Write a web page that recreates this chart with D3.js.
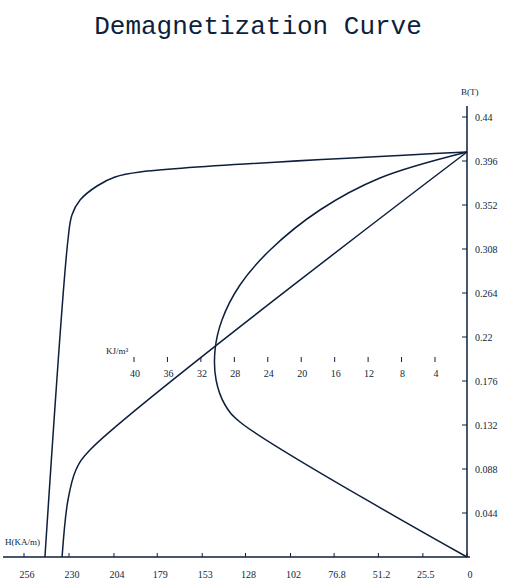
<!DOCTYPE html><html><head><meta charset="utf-8"><script src="https://cdn.jsdelivr.net/npm/d3@7"></script>
<style>body{margin:0;background:#fff}</style></head><body><svg id="c" width="511" height="587"></svg>
<script>
const hTicks=[256,230,204,179,153,128,102,76.8,51.2,25.5,0];
const bTicks=[0.44,0.396,0.352,0.308,0.264,0.22,0.176,0.132,0.088,0.044];
const eTicks=[40,36,32,28,24,20,16,12,8,4];
const outerH=[243.9,230.6,228.3,223.6,213.8,203.4,189,0];
const outerB=[0,0.317,0.342,0.357,0.371,0.38,0.385,0.405];
const lineH=[234,230.6,226,217.9,0];
const lineB=[0,0.057,0.087,0.107,0.405];
const bhH=[0,131.2,139.8,145,145.6,141.6,131.2,113.8,85,50.3,0];
const bhB=[0,0.135,0.152,0.177,0.207,0.237,0.272,0.307,0.347,0.379,0.405];
const svg=d3.select("#c");const col="#0d1f3c";
const x=d3.scaleLinear().domain([256,0]).range([24,467]);
const y=d3.scaleLinear().domain([0,0.44]).range([557,117]);
const e=d3.scaleLinear().domain([40,4]).range([134,435]);
svg.append("text").attr("x",258).attr("y",34).attr("text-anchor","middle").attr("font-family","Liberation Mono").attr("font-size",26).attr("fill",col).text("Demagnetization Curve");
const f="Liberation Serif";
svg.append("line").attr("x1",3).attr("x2",470).attr("y1",557).attr("y2",557).attr("stroke",col).attr("stroke-width",1.5);
svg.append("line").attr("x1",467).attr("x2",467).attr("y1",557).attr("y2",106).attr("stroke",col).attr("stroke-width",1.5);
hTicks.forEach(v=>{svg.append("line").attr("x1",x(v)).attr("x2",x(v)).attr("y1",557).attr("y2",553).attr("stroke",col);
svg.append("text").attr("x",x(v)+3).attr("y",578).attr("text-anchor","middle").attr("font-family",f).attr("font-size",10).attr("fill",col).text(v);});
bTicks.forEach(v=>{svg.append("line").attr("x1",462).attr("x2",467).attr("y1",y(v)).attr("y2",y(v)).attr("stroke",col);
svg.append("text").attr("x",475).attr("y",y(v)+4).attr("font-family",f).attr("font-size",10).attr("fill",col).text(v);});
eTicks.forEach(v=>{svg.append("line").attr("x1",e(v)).attr("x2",e(v)).attr("y1",357).attr("y2",362).attr("stroke",col);
svg.append("text").attr("x",e(v)+1).attr("y",377).attr("text-anchor","middle").attr("font-family",f).attr("font-size",10).attr("fill",col).text(v);});
svg.append("text").attr("x",106).attr("y",354).attr("font-family",f).attr("font-size",9).attr("fill",col).text("KJ/m³");
svg.append("text").attr("x",5).attr("y",545).attr("font-family",f).attr("font-size",9).attr("fill",col).text("H(KA/m)");
svg.append("text").attr("x",461).attr("y",95).attr("font-family",f).attr("font-size",9).attr("fill",col).text("B(T)");
function draw(H,B,c){svg.append("path").attr("d",d3.line().x(d=>x(d[0])).y(d=>y(d[1])).curve(c)(H.map((h,i)=>[h,B[i]]))).attr("fill","none").attr("stroke",col).attr("stroke-width",1.5);}
draw(outerH,outerB,d3.curveCatmullRom);
draw(lineH,lineB,d3.curveCatmullRom);
draw(bhH,bhB,d3.curveCatmullRom);
</script></body></html>
